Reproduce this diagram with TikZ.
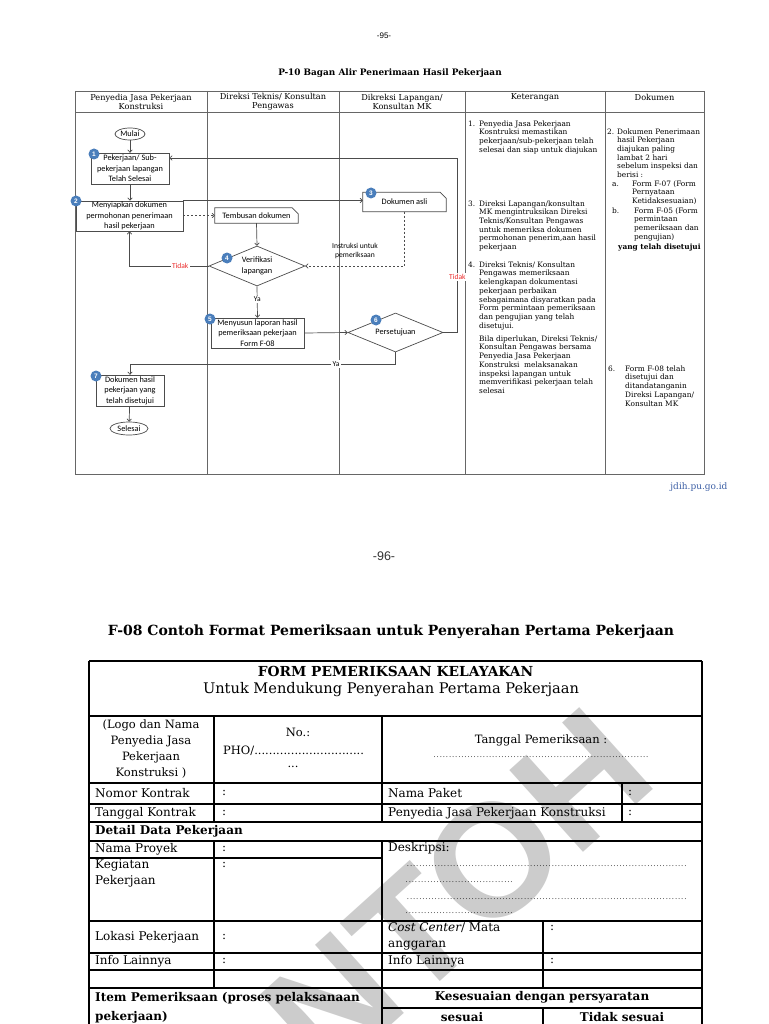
\documentclass[tikz,border=0pt]{standalone}
\usepackage{fontspec}
\setmainfont{DejaVu Serif}
\newfontfamily\fcal{Carlito}
\newfontfamily\farial{Liberation Sans}
\usetikzlibrary{arrows.meta,shapes.geometric,calc}
\definecolor{fline}{gray}{0.3}
\definecolor{tline}{gray}{0.4}
\definecolor{cblue}{RGB}{74,126,187}
\definecolor{tred}{RGB}{235,40,40}
\definecolor{wm}{gray}{0.8}
\definecolor{linkblue}{RGB}{60,95,165}
\tikzset{
 fbox/.style={draw=fline, line width=0.7pt, font=\fcal\fontsize{8.3}{10.5}\selectfont, align=center, inner sep=1pt},
 fterm/.style={draw=fline, line width=0.7pt, ellipse, font=\fcal\fontsize{8.3}{10}\selectfont, inner sep=0pt},
 fdia/.style={draw=fline, line width=0.7pt, diamond, shape aspect=2.4, font=\fcal\fontsize{8.3}{10.5}\selectfont, align=center, inner sep=0pt},
 fdoc/.style={font=\fcal\fontsize{8.3}{10}\selectfont, inner sep=0pt},
 snip/.style={draw=fline, line width=0.7pt},
 numc/.style={circle, fill=cblue, text=white, font=\farial\bfseries\fontsize{6.5}{6.5}\selectfont, minimum size=11pt, inner sep=0pt},
 flow/.style={draw=fline, line width=0.7pt, -{To[length=3pt,width=5pt]}},
 dflow/.style={flow, dash pattern=on 2pt off 2pt},
 lbl/.style={font=\fcal\fontsize{7.5}{9}\selectfont, fill=white, inner sep=1.5pt},
 tlbl/.style={lbl, text=tred},
 hdr/.style={font=\fontsize{8.2}{9}\selectfont, align=center, inner sep=0pt},
 ket/.style={font=\fontsize{7.4}{8.7}\selectfont, align=left, anchor=base west, inner sep=0pt},
 ketb/.style={ket, font=\bfseries\fontsize{7.4}{8.7}\selectfont},
 tab1/.style={draw=tline, line width=0.6pt},
 ftab/.style={draw=black, line width=1.2pt},
 ftxt/.style={font=\fontsize{12}{16}\selectfont, anchor=west, inner sep=0pt},
 ftxtb/.style={ftxt, font=\bfseries\fontsize{12}{19}\selectfont},
}
\begin{document}
\begin{tikzpicture}[x=1pt,y=-1pt]
\useasboundingbox[fill=white] (0,0) rectangle (768,1024);

% ---------------- page 95 ----------------
\node[font=\farial\fontsize{8}{9}\selectfont] (p95) at (384,36) {-95-};
\node[font=\bfseries\fontsize{8.9}{10}\selectfont] (t95) at (390,73) {P-10 Bagan Alir Penerimaan Hasil Pekerjaan};

% table frame
\draw[tab1] (75,91) rectangle (704,474);
\draw[tab1] (75,112) -- (704,112);
\foreach \xx in {207,339,465,605} \draw[tab1] (\xx,91) -- (\xx,474);

\node[hdr] (h1) at (141,101.5) {Penyedia Jasa Pekerjaan\\Konstruksi};
\node[hdr] (h2) at (273,101.5) {Direksi Teknis/ Konsultan\\Pengawas};
\node[hdr] (h3) at (402,101.5) {Dikreksi Lapangan/\\Konsultan MK};
\node[hdr] (h4) at (535,97) {Keterangan};
\node[hdr] (h5) at (654.5,97) {Dokumen};

% flowchart nodes
\node[fterm, minimum width=30pt, minimum height=12pt] (mulai) at (130,134) {Mulai};
\node[fbox, minimum width=78pt, minimum height=31pt] (b1) at (130,168.5) {Pekerjaan/ Sub-\\pekerjaan lapangan\\Telah Selesai};
\node[fbox, minimum width=107pt, minimum height=30pt] (b2) at (129.5,216) {Menyiapkan dokumen\\permohonan penerimaan\\hasil pekerjaan};
\node[fdoc, minimum width=83pt, minimum height=15pt] (tem) at (256.5,215.5) {Tembusan dokumen};
\node[fdoc, minimum width=83pt, minimum height=19pt] (asli) at (404.5,202) {Dokumen asli};
\draw[snip] (tem.south west) -- (tem.north west) -- ([xshift=-6pt]tem.north east) -- ([yshift=-6pt]tem.north east) -- (tem.south east) -- cycle;
\draw[snip] (asli.south west) -- (asli.north west) -- ([xshift=-6pt]asli.north east) -- ([yshift=-6pt]asli.north east) -- (asli.south east) -- cycle;
\node[fdia, minimum width=96pt, minimum height=40pt] (ver) at (257,266) {Verifikasi\\lapangan};
\node[fbox, minimum width=93pt, minimum height=30pt] (b5) at (257.5,333) {Menyusun laporan hasil\\pemeriksaan pekerjaan\\Form F-08};
\node[fdia, minimum width=95pt, minimum height=39pt] (per) at (395.5,332.5) {Persetujuan};
\node[fbox, minimum width=68pt, minimum height=31pt] (b7) at (130,390.5) {Dokumen hasil\\pekerjaan yang\\telah disetujui};
\node[fterm, minimum width=38pt, minimum height=13pt] (sel) at (129,428.5) {Selesai};
\node[font=\fcal\fontsize{7.6}{9.5}\selectfont, align=center] (ins) at (355,251) {Instruksi untuk\\pemeriksaan};

% connectors
\draw[flow] (mulai) -- (b1);
\draw[flow] (b1.south) -- (b1.south |- b2.north);
\draw[flow] (b2.north east) -- (b2.north east -| asli.west);
\draw[dflow] (b2.east |- tem.west) -- (tem.west);
\draw[flow] (tem.south) -- (ver.north);
\draw[dflow] (asli.south) |- (ver.east);
\draw[flow] (ver.west) -| node[tlbl, pos=0.18] {Tidak} (b2.south);
\draw[flow] (ver.south) -- node[lbl, pos=0.42] {Ya} (b5.north);
\draw[flow] (b5.east) -- (per.west);
\coordinate (b1in) at ([yshift=10.5pt]b1.east);
\draw[flow] (per.east) -- ++(14,0) coordinate (pr) -- node[tlbl, pos=0.32] {Tidak} (pr |- b1in) -- (b1in);
\draw[flow] (per.south) -- ++(0,12) -| node[lbl, pos=0.112] {Ya} (b7.north);
\draw[flow] (b7) -- (sel);

% numbered circles
\node[numc] (n1) at (94,154) {1};
\node[numc] (n2) at (76,201) {2};
\node[numc] (n3) at (371,193) {3};
\node[numc] (n4) at (227,258) {4};
\node[numc] (n5) at (210,319) {5};
\node[numc] (n6) at (376,320) {6};
\node[numc] (n7) at (96,376) {7};

% keterangan (base anchor = baseline of last line)
\node[ket] (k1n) at (468,126.2) {1.};
\node[ket] (k1) at (479,152.3) {Penyedia Jasa Pekerjaan\\Kosntruksi memastikan\\pekerjaan/sub-pekerjaan telah\\selesai dan siap untuk diajukan};
\node[ket] (k3n) at (468,206.2) {3.};
\node[ket] (k3) at (479,249.7) {Direksi Lapangan/konsultan\\MK mengintruksikan Direksi\\Teknis/Konsultan Pengawas\\untuk memeriksa dokumen\\permohonan penerim,aan hasil\\pekerjaan};
\node[ket] (k4n) at (468,267.2) {4.};
\node[ket] (k4) at (479,328.1) {Direksi Teknis/ Konsultan\\Pengawas memeriksaan\\kelengkapan dokumentasi\\pekerjaan perbaikan\\sebagaimana disyaratkan pada\\Form permintaan pemeriksaan\\dan pengujian yang telah\\disetujui.};
\node[ket] (k4b) at (479,393.4) {Bila diperlukan, Direksi Teknis/\\Konsultan Pengawas bersama\\Penyedia Jasa Pekerjaan\\Konstruksi\ \ melaksanakan\\inspeksi lapangan untuk\\memverifikasi pekerjaan telah\\selesai};

% dokumen
\node[ket] (d2n) at (607,134.2) {2.};
\node[ket] (d2) at (617,177.7) {Dokumen Penerimaan\\hasil Pekerjaan\\diajukan paling\\lambat 2 hari\\sebelum inspeksi dan\\berisi :};
\node[ket] (dan) at (612,186.2) {a.};
\node[ket] (da) at (632,203.6) {Form F-07 (Form\\Pernyataan\\Ketidaksesuaian)};
\node[ket] (dbn) at (612,213.2) {b.};
\node[ket] (db) at (634,239.3) {Form F-05 (Form\\permintaan\\pemeriksaan dan\\pengujian)};
\node[ketb] (dy) at (618,249.2) {yang telah disetujui};
\node[ket] (d6n) at (608,371.2) {6.};
\node[ket] (d6) at (625,406.0) {Form F-08 telah\\disetujui dan\\ditandatanganin\\Direksi Lapangan/\\Konsultan MK};

\node[font=\fontsize{9}{10}\selectfont, text=linkblue, anchor=east] (jd) at (731,487) {jdih.pu.go.id};

% ---------------- page 96 ----------------
\node[font=\farial\fontsize{12.5}{14}\selectfont, text=black!80] (p96) at (384,556) {-96-};
\node[font=\bfseries\fontsize{14}{16}\selectfont] (t96) at (391,632) {F-08 Contoh Format Pemeriksaan untuk Penyerahan Pertama Pekerjaan};

% watermark
\begin{scope}
\clip (0,0) rectangle (768,1024);
\node[font=\farial\bfseries\fontsize{160}{160}\selectfont, text=wm, rotate=42] (wmk) at (368,972) {CONTOH};
\end{scope}

% form table
\draw[ftab] (89,661) -- (702,661);
\draw[ftab] (89,661) -- (89,1024);
\draw[ftab] (702,661) -- (702,1024);
\foreach \yy in {716,783,804,822,841,921,953,970,988} \draw[ftab] (89,\yy) -- (702,\yy);
\draw[ftab] (89,858) -- (382,858);
\draw[ftab] (382,1008) -- (702,1008);
\draw[ftab] (214,716) -- (214,822);
\draw[ftab] (214,841) -- (214,988);
\draw[ftab] (382,716) -- (382,822);
\draw[ftab] (382,841) -- (382,1024);
\draw[ftab] (622,783) -- (622,822);
\draw[ftab] (543,921) -- (543,988);
\draw[ftab] (543,1008) -- (543,1024);

\node[font=\bfseries\fontsize{13.8}{15}\selectfont] (ft1) at (395.5,671) {FORM PEMERIKSAAN KELAYAKAN};
\node[font=\fontsize{14.6}{16}\selectfont] (ft2) at (391,690) {Untuk Mendukung Penyerahan Pertama Pekerjaan};

\node[font=\fontsize{11.5}{16}\selectfont, align=center] (logo) at (151,749) {(Logo dan Nama\\Penyedia Jasa\\Pekerjaan\\Konstruksi )};
\node[font=\fontsize{11.5}{14}\selectfont] (no) at (298,732) {No.:};
\node[ftxt, font=\fontsize{11.5}{14}\selectfont] (pho) at (223,751) {PHO/..............................};
\node[font=\fontsize{11.5}{14}\selectfont] (pho2) at (293,767) {...};
\node[font=\fontsize{11.5}{14}\selectfont] (tgp) at (541,740) {Tanggal Pemeriksaan :};
\node[font=\fontsize{7}{8}\selectfont, inner sep=0pt] (tgd) at (541,757) {\makebox[218pt]{\dotfill}};

\node[ftxt] (r1a) at (95,793) {Nomor Kontrak};
\node[ftxt] (r1b) at (222,793) {:};
\node[ftxt] (r1c) at (388,793) {Nama Paket};
\node[ftxt] (r1d) at (628,793) {:};
\node[ftxt] (r2a) at (95,813) {Tanggal Kontrak};
\node[ftxt] (r2b) at (222,813) {:};
\node[ftxt] (r2c) at (388,813) {Penyedia Jasa Pekerjaan Konstruksi};
\node[ftxt] (r2d) at (628,813) {:};
\node[ftxtb] (r3) at (95,831) {Detail Data Pekerjaan};
\node[ftxt] (r4a) at (95,849) {Nama Proyek};
\node[ftxt] (r4b) at (222,849) {:};
\node[ftxt] (r4c) at (388,848) {Deskripsi:};
\node[font=\fontsize{7}{8}\selectfont, anchor=west, inner sep=0pt] (ds1) at (405,866) {\makebox[283pt]{\dotfill}};
\node[font=\fontsize{7}{8}\selectfont, anchor=west, inner sep=0pt] (ds2) at (405,882) {\makebox[108pt]{\dotfill}};
\node[font=\fontsize{7}{8}\selectfont, anchor=west, inner sep=0pt] (ds3) at (405,899) {\makebox[283pt]{\dotfill}};
\node[font=\fontsize{7}{8}\selectfont, anchor=west, inner sep=0pt] (ds4) at (405,913) {\makebox[108pt]{\dotfill}};
\node[ftxt, align=left, anchor=north west] (r5a) at (95,859) {Kegiatan\\Pekerjaan};
\node[ftxt] (r5b) at (222,865) {:};
\node[ftxt] (r6a) at (95,937) {Lokasi Pekerjaan};
\node[ftxt] (r6b) at (222,937) {:};
\node[ftxt, align=left, anchor=north west] (r6c) at (388,922) {{\itshape Cost Center}/ Mata\\anggaran};
\node[ftxt] (r6d) at (550,928) {:};
\node[ftxt] (r7a) at (95,961) {Info Lainnya};
\node[ftxt] (r7b) at (222,961) {:};
\node[ftxt] (r7c) at (388,961) {Info Lainnya};
\node[ftxt] (r7d) at (550,961) {:};
\node[ftxtb, align=left, anchor=north west] (r8a) at (95,992) {Item Pemeriksaan (proses pelaksanaan\\pekerjaan)};
\node[font=\bfseries\fontsize{12}{14}\selectfont] (r8b) at (542,997) {Kesesuaian dengan persyaratan};
\node[font=\bfseries\fontsize{12}{14}\selectfont] (r8c) at (462,1017) {sesuai};
\node[font=\bfseries\fontsize{12}{14}\selectfont] (r8d) at (622,1017) {Tidak sesuai};
\end{tikzpicture}
\end{document}
